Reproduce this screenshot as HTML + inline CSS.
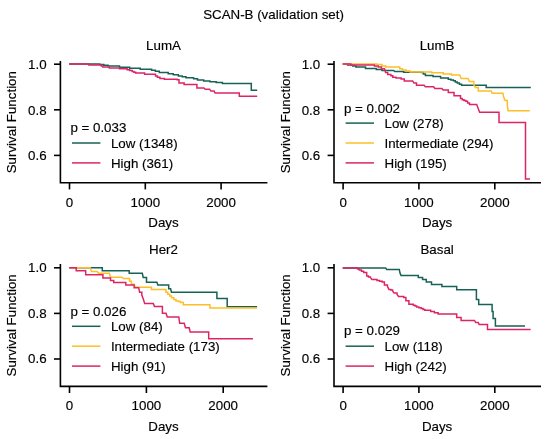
<!DOCTYPE html><html><head><meta charset="utf-8"><title>SCAN-B (validation set)</title>
<style>html,body{margin:0;padding:0;background:#fff}svg{display:block}text{font-family:"Liberation Sans",sans-serif;font-size:13.33px;fill:#000;stroke:#000;stroke-width:0.15px}</style></head><body>
<svg width="550" height="439" viewBox="0 0 550 439">
<rect width="550" height="439" fill="#fff"/>
<text x="273.5" y="18.5" text-anchor="middle">SCAN-B (validation set)</text>
<g>
<polyline fill="none" stroke="#176256" stroke-width="1.5" stroke-linejoin="miter" points="69.2,64.1 88.9,64.1 99.7,64.1 99.7,64.4 103.8,64.4 103.8,65.2 108.0,65.2 108.0,65.9 119.5,65.9 119.5,67.2 129.6,67.2 129.6,68.2 140.2,68.2 140.2,69.2 151.6,69.2 151.6,70.2 155.4,70.2 155.4,71.3 159.3,71.3 159.3,72.5 168.2,72.5 168.2,73.7 173.3,73.7 173.3,74.8 178.4,74.8 178.4,75.9 182.2,75.9 182.2,76.8 186.0,76.8 186.0,77.8 193.6,77.8 193.6,78.8 197.5,78.8 197.5,80.0 203.7,80.0 203.7,80.9 209.9,80.9 209.9,81.8 216.2,81.8 216.2,82.6 222.4,82.6 222.4,83.5 251.3,83.5 251.3,90.2 257.2,90.2"/>
<polyline fill="none" stroke="#dd2467" stroke-width="1.5" stroke-linejoin="miter" points="69.2,64.1 81.3,64.1 88.9,64.1 88.9,65.0 99.7,65.0 101.3,65.0 101.3,66.0 102.9,66.0 102.9,66.9 109.3,66.9 109.3,67.9 119.5,67.9 119.5,68.8 127.1,68.8 127.1,69.7 129.6,69.7 129.6,70.6 132.2,70.6 132.2,71.4 133.9,71.4 133.9,72.2 135.7,72.2 135.7,73.0 142.7,73.0 144.6,73.0 144.6,74.3 152.9,74.3 155.5,74.3 155.5,75.9 157.4,75.9 157.4,77.2 159.9,77.2 159.9,78.5 164.4,78.5 164.4,79.3 177.1,79.3 177.1,79.8 179.0,79.8 179.0,82.9 182.2,82.9 184.1,82.9 184.1,84.4 194.9,84.4 196.9,84.4 196.9,87.9 203.9,87.9 205.2,89.2 209.6,89.2 210.9,91.1 214.1,91.1 215.1,93.0 239.3,93.0 239.3,96.2 257.2,96.2"/>
<path d="M60.4,61.7V182.8H266.6" fill="none" stroke="#000" stroke-width="1.6" stroke-linecap="square"/>
<line x1="69.5" x2="69.5" y1="182.8" y2="189.4" stroke="#000" stroke-width="1.6"/>
<text x="69.5" y="206.8" text-anchor="middle">0</text>
<line x1="145.3" x2="145.3" y1="182.8" y2="189.4" stroke="#000" stroke-width="1.6"/>
<text x="145.3" y="206.8" text-anchor="middle">1000</text>
<line x1="221.1" x2="221.1" y1="182.8" y2="189.4" stroke="#000" stroke-width="1.6"/>
<text x="221.1" y="206.8" text-anchor="middle">2000</text>
<line x1="54.0" x2="60.4" y1="64.2" y2="64.2" stroke="#000" stroke-width="1.6"/>
<text x="46.6" y="69.0" text-anchor="end">1.0</text>
<line x1="54.0" x2="60.4" y1="109.8" y2="109.8" stroke="#000" stroke-width="1.6"/>
<text x="46.6" y="114.6" text-anchor="end">0.8</text>
<line x1="54.0" x2="60.4" y1="155.4" y2="155.4" stroke="#000" stroke-width="1.6"/>
<text x="46.6" y="160.2" text-anchor="end">0.6</text>
<text x="163.5" y="50.4" text-anchor="middle">LumA</text>
<text x="163.5" y="227.3" text-anchor="middle">Days</text>
<text transform="translate(16.0,122.2) rotate(-90)" text-anchor="middle">Survival Function</text>
<text x="70.4" y="131.9">p = 0.033</text>
<line x1="72.0" x2="100.4" y1="143.0" y2="143.0" stroke="#176256" stroke-width="1.5"/>
<text x="110.9" y="147.9">Low (1348)</text>
<line x1="72.0" x2="100.4" y1="162.9" y2="162.9" stroke="#dd2467" stroke-width="1.5"/>
<text x="110.9" y="167.8">High (361)</text>
</g>
<g>
<polyline fill="none" stroke="#176256" stroke-width="1.5" stroke-linejoin="miter" points="342.7,64.1 347.6,64.1 347.6,65.0 352.7,65.0 352.7,65.9 355.9,65.9 355.9,66.9 363.5,66.9 365.5,66.9 365.5,68.4 374.4,68.4 376.3,68.4 376.3,69.5 382.0,69.5 382.0,70.5 393.5,70.5 394.7,71.4 403.6,71.4 403.6,72.3 421.5,72.3 421.5,72.4 423.4,72.4 423.4,73.9 425.4,73.9 425.4,75.4 433.0,75.4 433.0,76.6 440.6,76.6 440.6,77.9 448.3,77.9 448.3,79.2 450.9,79.2 450.9,80.0 453.4,80.0 453.4,80.8 455.3,80.8 455.3,81.9 457.2,81.9 457.2,83.0 459.4,83.0 459.4,84.2 461.6,84.2 461.6,85.3 486.2,85.3 486.2,87.5 530.8,87.5"/>
<polyline fill="none" stroke="#fdbf26" stroke-width="1.5" stroke-linejoin="miter" points="342.7,64.1 373.1,64.1 376.9,64.1 376.9,64.6 382.0,64.6 382.0,65.9 385.8,65.9 385.8,66.9 397.3,66.9 399.8,66.9 399.8,68.8 402.4,68.8 402.4,70.1 406.2,70.1 406.2,71.0 410.1,71.0 410.1,71.9 431.7,71.9 431.7,72.8 443.2,72.8 443.2,74.1 451.5,74.1 451.5,75.0 459.7,75.0 461.2,78.6 468.0,78.6 469.4,81.6 472.2,81.6 473.8,81.6 473.8,84.7 475.3,87.5 478.2,87.5 478.2,91.1 491.3,91.1 492.3,93.3 502.9,93.3 503.6,96.9 505.1,100.5 507.3,100.5 507.3,104.9 508.0,110.7 529.8,110.7"/>
<polyline fill="none" stroke="#dd2467" stroke-width="1.5" stroke-linejoin="miter" points="342.7,64.1 350.8,64.1 350.8,65.0 374.4,65.0 374.4,65.9 378.2,65.9 378.2,66.9 381.4,66.9 381.4,68.8 384.5,68.8 385.6,72.6 387.7,72.6 387.7,74.5 390.9,74.5 390.9,75.8 392.8,75.8 392.8,77.3 396.0,77.3 396.0,78.1 401.1,78.1 401.1,79.0 404.3,79.0 404.3,80.9 412.6,80.9 413.9,83.0 416.5,83.0 416.5,85.2 424.1,85.2 425.4,86.8 433.6,86.8 434.9,88.5 441.9,88.5 443.2,90.0 446.4,90.0 448.3,90.0 448.3,92.5 452.1,92.5 454.0,92.5 454.0,95.7 458.5,95.7 460.5,95.7 460.5,98.6 462.2,98.6 462.2,99.8 464.0,99.8 464.0,100.5 465.8,100.5 465.8,101.3 467.6,101.3 467.6,102.9 469.5,102.9 469.5,104.5 476.7,104.5 478.2,108.5 479.6,112.2 499.0,112.2 499.0,122.4 525.5,122.4 525.5,179.0 530.0,179.0"/>
<path d="M334.0,61.7V182.8H540.2" fill="none" stroke="#000" stroke-width="1.6" stroke-linecap="square"/>
<line x1="343.1" x2="343.1" y1="182.8" y2="189.4" stroke="#000" stroke-width="1.6"/>
<text x="343.1" y="206.8" text-anchor="middle">0</text>
<line x1="418.9" x2="418.9" y1="182.8" y2="189.4" stroke="#000" stroke-width="1.6"/>
<text x="418.9" y="206.8" text-anchor="middle">1000</text>
<line x1="494.8" x2="494.8" y1="182.8" y2="189.4" stroke="#000" stroke-width="1.6"/>
<text x="494.8" y="206.8" text-anchor="middle">2000</text>
<line x1="327.6" x2="334.0" y1="64.2" y2="64.2" stroke="#000" stroke-width="1.6"/>
<text x="320.2" y="69.0" text-anchor="end">1.0</text>
<line x1="327.6" x2="334.0" y1="109.8" y2="109.8" stroke="#000" stroke-width="1.6"/>
<text x="320.2" y="114.6" text-anchor="end">0.8</text>
<line x1="327.6" x2="334.0" y1="155.4" y2="155.4" stroke="#000" stroke-width="1.6"/>
<text x="320.2" y="160.2" text-anchor="end">0.6</text>
<text x="437.1" y="50.4" text-anchor="middle">LumB</text>
<text x="437.1" y="227.3" text-anchor="middle">Days</text>
<text transform="translate(289.6,122.2) rotate(-90)" text-anchor="middle">Survival Function</text>
<text x="344.0" y="112.5">p = 0.002</text>
<line x1="345.6" x2="374.0" y1="123.1" y2="123.1" stroke="#176256" stroke-width="1.5"/>
<text x="384.5" y="128.0">Low (278)</text>
<line x1="345.6" x2="374.0" y1="143.0" y2="143.0" stroke="#fdbf26" stroke-width="1.5"/>
<text x="384.5" y="147.9">Intermediate (294)</text>
<line x1="345.6" x2="374.0" y1="162.9" y2="162.9" stroke="#dd2467" stroke-width="1.5"/>
<text x="384.5" y="167.8">High (195)</text>
</g>
<g>
<polyline fill="none" stroke="#176256" stroke-width="1.5" stroke-linejoin="miter" points="69.2,267.7 102.3,267.7 102.3,270.7 129.2,270.7 129.2,273.2 142.3,273.2 143.2,277.4 146.5,277.4 146.5,282.3 156.9,282.3 157.8,285.0 168.7,285.0 168.7,288.7 170.6,288.7 171.5,292.3 216.9,292.3 216.9,298.5 227.2,298.5 227.2,306.7 257.1,306.7"/>
<polyline fill="none" stroke="#fdbf26" stroke-width="1.5" stroke-linejoin="miter" points="69.2,267.7 90.2,267.7 91.5,271.5 97.2,271.5 98.5,273.2 109.3,273.2 110.5,277.3 122.0,277.3 123.3,278.5 127.4,278.5 127.4,278.6 129.6,278.6 129.6,281.2 131.4,281.2 131.4,284.2 134.4,284.2 135.0,287.3 149.6,287.3 151.4,287.3 151.4,289.6 164.2,289.6 166.0,289.6 166.0,292.3 167.8,292.3 167.8,294.2 169.7,294.2 169.7,296.0 171.5,296.0 171.5,297.8 173.8,297.8 173.8,299.4 176.0,299.4 176.0,300.9 178.3,300.9 178.3,301.6 180.6,301.6 180.6,302.4 183.3,302.4 183.3,304.8 209.9,304.8 209.9,308.1 257.1,308.1"/>
<polyline fill="none" stroke="#dd2467" stroke-width="1.5" stroke-linejoin="miter" points="69.2,267.7 76.2,267.7 76.2,270.7 85.7,270.7 85.7,274.7 102.9,274.7 102.9,277.9 110.5,277.9 110.5,280.5 113.7,280.5 113.7,282.6 125.8,282.6 125.8,285.1 134.1,285.1 134.1,287.8 138.7,287.8 139.6,292.3 141.8,292.3 141.8,295.1 143.2,298.7 144.7,303.6 153.3,303.6 154.5,306.6 160.5,306.6 162.4,306.6 162.4,313.3 166.0,313.3 167.3,317.0 178.8,317.0 179.7,323.3 184.2,323.3 185.5,327.8 189.2,327.8 190.2,332.0 208.7,332.0 208.7,338.7 252.9,338.7"/>
<path d="M60.4,264.9V386.4H266.6" fill="none" stroke="#000" stroke-width="1.6" stroke-linecap="square"/>
<line x1="69.5" x2="69.5" y1="386.4" y2="393.0" stroke="#000" stroke-width="1.6"/>
<text x="69.5" y="410.0" text-anchor="middle">0</text>
<line x1="146.4" x2="146.4" y1="386.4" y2="393.0" stroke="#000" stroke-width="1.6"/>
<text x="146.4" y="410.0" text-anchor="middle">1000</text>
<line x1="223.2" x2="223.2" y1="386.4" y2="393.0" stroke="#000" stroke-width="1.6"/>
<text x="223.2" y="410.0" text-anchor="middle">2000</text>
<line x1="54.0" x2="60.4" y1="267.8" y2="267.8" stroke="#000" stroke-width="1.6"/>
<text x="46.6" y="272.2" text-anchor="end">1.0</text>
<line x1="54.0" x2="60.4" y1="313.4" y2="313.4" stroke="#000" stroke-width="1.6"/>
<text x="46.6" y="317.8" text-anchor="end">0.8</text>
<line x1="54.0" x2="60.4" y1="359.0" y2="359.0" stroke="#000" stroke-width="1.6"/>
<text x="46.6" y="363.4" text-anchor="end">0.6</text>
<text x="163.5" y="253.6" text-anchor="middle">Her2</text>
<text x="163.5" y="430.5" text-anchor="middle">Days</text>
<text transform="translate(16.0,325.4) rotate(-90)" text-anchor="middle">Survival Function</text>
<text x="70.4" y="315.7">p = 0.026</text>
<line x1="72.0" x2="100.4" y1="326.3" y2="326.3" stroke="#176256" stroke-width="1.5"/>
<text x="110.9" y="331.2">Low (84)</text>
<line x1="72.0" x2="100.4" y1="346.2" y2="346.2" stroke="#fdbf26" stroke-width="1.5"/>
<text x="110.9" y="351.1">Intermediate (173)</text>
<line x1="72.0" x2="100.4" y1="366.1" y2="366.1" stroke="#dd2467" stroke-width="1.5"/>
<text x="110.9" y="371.0">High (91)</text>
</g>
<g>
<polyline fill="none" stroke="#176256" stroke-width="1.5" stroke-linejoin="miter" points="342.7,267.9 385.6,267.9 386.7,269.4 399.3,269.4 400.0,273.1 401.0,275.4 418.3,275.4 418.3,277.4 422.6,277.4 422.6,279.6 426.3,279.6 426.3,281.9 431.5,281.9 431.5,284.4 441.9,284.4 441.9,286.6 456.7,286.6 456.7,289.8 476.4,289.8 476.4,299.4 478.7,299.4 478.7,304.6 492.1,304.6 492.1,311.4 493.1,311.4 493.1,318.5 495.4,318.5 495.4,325.9 525.0,325.9"/>
<polyline fill="none" stroke="#dd2467" stroke-width="1.5" stroke-linejoin="miter" points="342.7,267.9 355.6,267.9 357.5,267.9 357.5,269.0 359.3,269.0 359.3,270.1 361.5,270.1 361.5,271.2 363.7,271.2 363.7,272.4 366.7,272.4 366.7,276.1 368.5,276.1 368.5,276.9 370.4,276.9 370.4,277.6 371.9,279.5 377.0,279.5 377.0,280.5 379.6,280.5 379.6,281.2 382.2,281.2 382.2,282.0 384.4,282.0 384.4,285.0 387.4,285.0 387.4,286.4 388.9,289.4 390.8,289.4 390.8,290.1 392.6,290.1 392.6,290.9 394.1,293.1 397.0,293.1 397.0,294.3 398.5,296.4 403.7,296.4 403.7,297.6 405.9,297.6 405.9,300.8 408.9,300.8 408.9,304.2 413.3,304.2 413.3,305.3 415.0,305.3 415.0,306.1 416.7,306.1 416.7,307.0 418.9,307.0 418.9,307.8 421.1,307.8 421.1,308.5 423.0,308.5 423.0,309.4 424.8,309.4 424.8,310.3 430.7,310.3 430.7,311.5 434.4,311.5 434.4,312.7 438.1,312.7 438.1,314.0 456.7,314.0 456.7,317.4 461.1,317.4 461.1,320.4 474.5,320.4 475.7,322.5 478.2,322.5 479.1,324.4 487.5,324.4 487.5,329.6 530.6,329.6"/>
<path d="M334.0,264.9V386.4H540.2" fill="none" stroke="#000" stroke-width="1.6" stroke-linecap="square"/>
<line x1="343.1" x2="343.1" y1="386.4" y2="393.0" stroke="#000" stroke-width="1.6"/>
<text x="343.1" y="410.0" text-anchor="middle">0</text>
<line x1="418.9" x2="418.9" y1="386.4" y2="393.0" stroke="#000" stroke-width="1.6"/>
<text x="418.9" y="410.0" text-anchor="middle">1000</text>
<line x1="494.8" x2="494.8" y1="386.4" y2="393.0" stroke="#000" stroke-width="1.6"/>
<text x="494.8" y="410.0" text-anchor="middle">2000</text>
<line x1="327.6" x2="334.0" y1="267.8" y2="267.8" stroke="#000" stroke-width="1.6"/>
<text x="320.2" y="272.2" text-anchor="end">1.0</text>
<line x1="327.6" x2="334.0" y1="313.4" y2="313.4" stroke="#000" stroke-width="1.6"/>
<text x="320.2" y="317.8" text-anchor="end">0.8</text>
<line x1="327.6" x2="334.0" y1="359.0" y2="359.0" stroke="#000" stroke-width="1.6"/>
<text x="320.2" y="363.4" text-anchor="end">0.6</text>
<text x="437.1" y="253.6" text-anchor="middle">Basal</text>
<text x="437.1" y="430.5" text-anchor="middle">Days</text>
<text transform="translate(289.6,325.4) rotate(-90)" text-anchor="middle">Survival Function</text>
<text x="344.0" y="335.1">p = 0.029</text>
<line x1="345.6" x2="374.0" y1="346.2" y2="346.2" stroke="#176256" stroke-width="1.5"/>
<text x="384.5" y="351.1">Low (118)</text>
<line x1="345.6" x2="374.0" y1="366.1" y2="366.1" stroke="#dd2467" stroke-width="1.5"/>
<text x="384.5" y="371.0">High (242)</text>
</g>
</svg></body></html>
